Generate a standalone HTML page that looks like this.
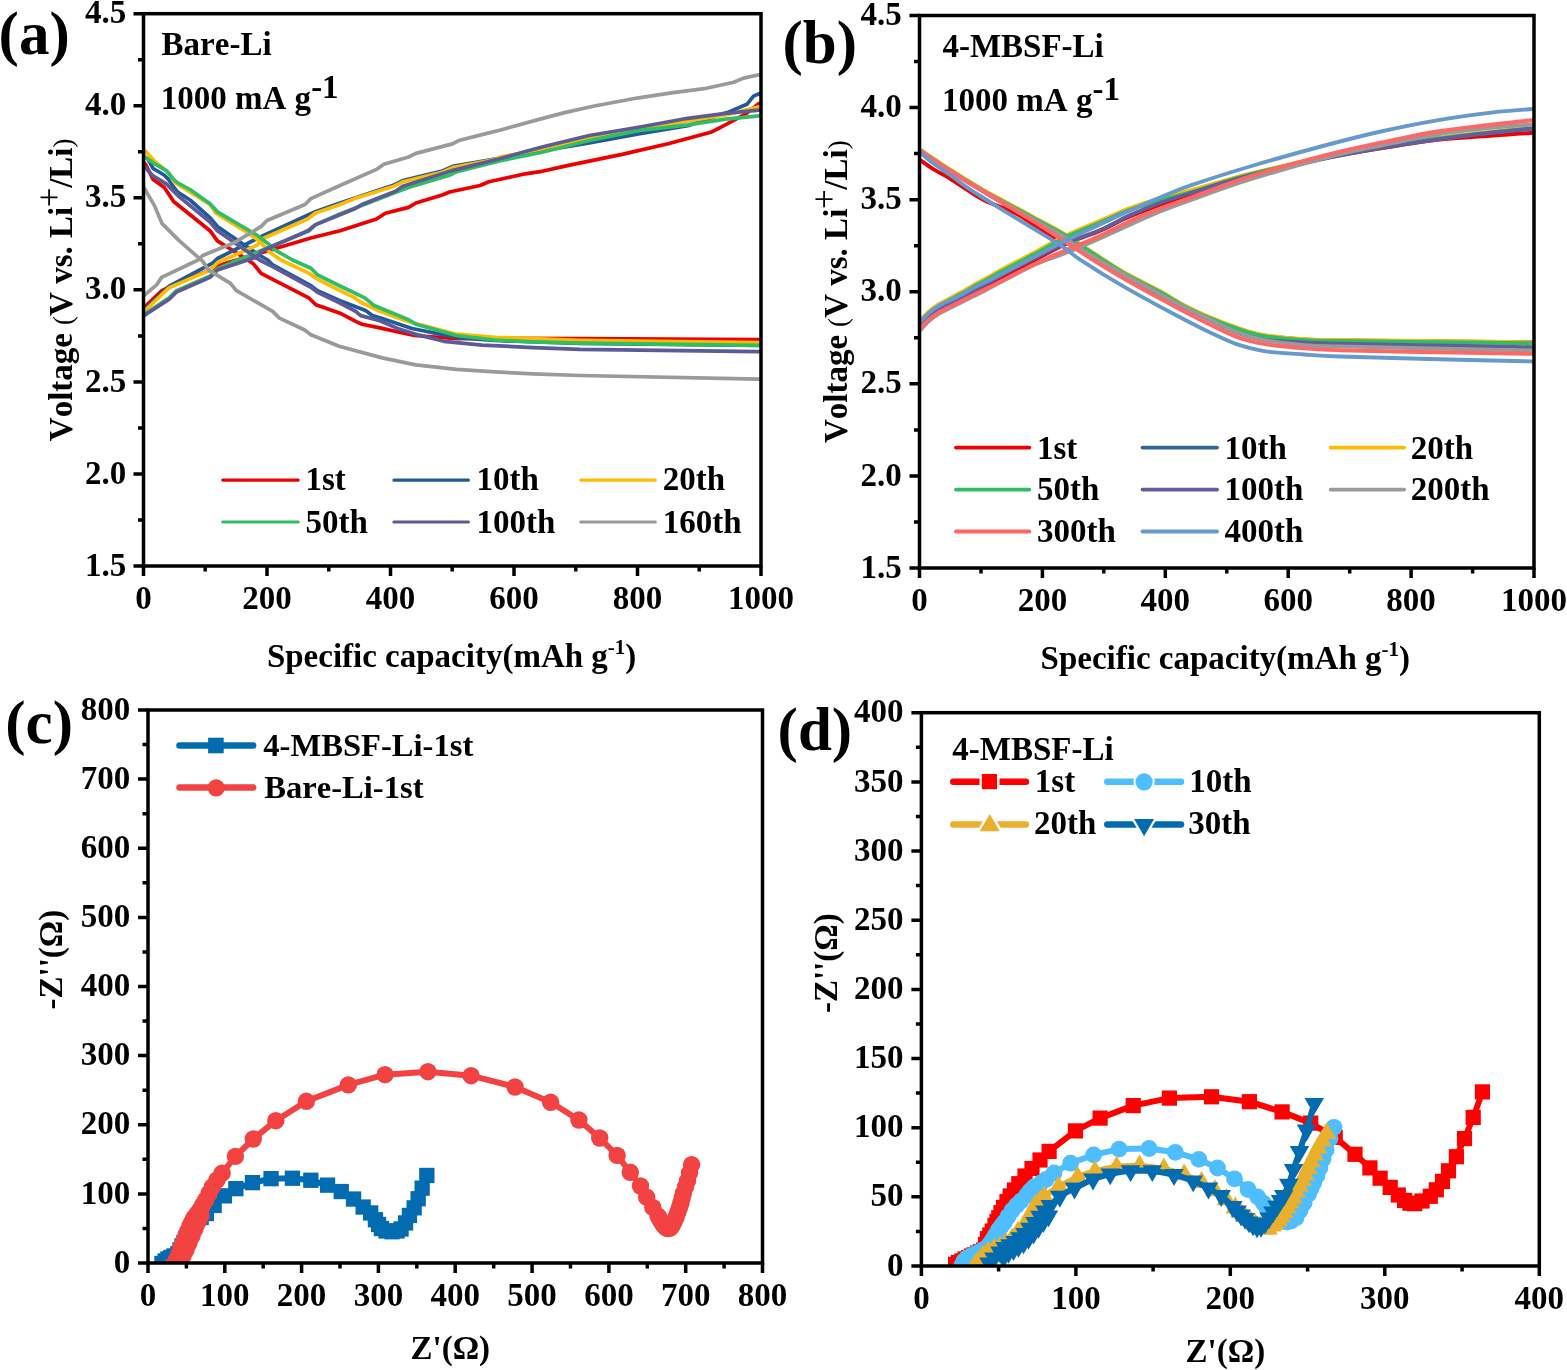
<!DOCTYPE html><html><head><meta charset="utf-8"><title>Figure</title><style>html,body{margin:0;padding:0;background:#fff;}svg{display:block;}text{font-family:"Liberation Serif","Times New Roman",serif;font-weight:bold;fill:#000;font-kerning:none;}</style></head><body>
<svg width="1567" height="1370" viewBox="0 0 1567 1370" font-size="33">
<rect width="1567" height="1370" fill="#fff"/>
<defs><clipPath id="ca"><rect x="143.5" y="13.7" width="617.5" height="552.3"/></clipPath><clipPath id="cb"><rect x="919.5" y="15.5" width="614.5" height="552.5"/></clipPath><clipPath id="cc"><rect x="148" y="710" width="614.5" height="553"/></clipPath><clipPath id="cd"><rect x="921.4" y="712.7" width="617.9" height="553.3"/></clipPath></defs>
<g clip-path="url(#ca)">
<polyline points="143.5,162 145.7,164.5 153.1,179.4 164.1,187.3 170.6,196.9 173.6,201.5 210,230.7 217.4,240.9 247.8,260 253.9,264.3 261.1,273.3 309.2,298.2 315.9,304.8 340,313.2 355.7,321.4 361.9,324.2 380,327.9 399.1,332.3 414.5,335.5 456.6,338.7 494.9,338.2 580,338.6 759,339.7" fill="none" stroke="#EE0000" stroke-width="3.7" stroke-linejoin="round" stroke-linecap="round"/>
<polyline points="143.5,308 161.9,290.6 176.5,283.3 210,270.1 217.4,265.8 271.4,249.7 310.8,238 340,230.7 376.5,219 385.3,213.2 408.6,207.4 415.9,203 442.2,195 449.5,192 480.1,185.5 488.9,181.8 525.4,173.8 540,171.7 569.6,165.1 622.1,154.4 668.1,143.8 710.8,132.3 720.6,127.3 745.3,114.2 759,103.5" fill="none" stroke="#EE0000" stroke-width="3.7" stroke-linejoin="round" stroke-linecap="round"/>
<polyline points="143.5,156.5 148,159 151,164.5 153.1,168.5 164.1,175 168.5,179.4 172.8,186 177.2,191.7 190,200 210,217.6 217.4,226.4 259.7,255.5 267.8,260 272.7,265 310.9,285.7 317.5,290.7 340,300.8 365.6,310.6 372.3,315.6 380,317.7 411.9,328.5 443.8,334.9 463,338.1 494.9,340.5 580,343.5 759,345.5" fill="none" stroke="#22599A" stroke-width="3.7" stroke-linejoin="round" stroke-linecap="round"/>
<polyline points="143.5,310.5 169.2,286.2 213,262.8 217.4,258.5 264.1,235.1 315.2,211.8 340,203 394,185 402.8,180.6 442.2,171 453.9,166 493.3,159.4 540,151.1 589.3,142.9 638.5,133.9 687.8,125.7 727.2,112.6 746.9,104.3 753.5,96.1 759,93.7" fill="none" stroke="#22599A" stroke-width="3.7" stroke-linejoin="round" stroke-linecap="round"/>
<polyline points="143.5,149.5 145.7,151.4 155.3,161.9 168.5,172.4 175,182.6 210,204.5 216,213.2 242.2,229.3 259.7,241 268.5,251 274.3,255.5 281,260 309.2,273.3 315.9,278.3 340,290.6 354,297.3 360.7,302.3 380,311.3 405.5,320.8 456.6,334.2 494.9,337.4 533.2,338.7 580,340.3 759,342.5" fill="none" stroke="#FFBB00" stroke-width="3.7" stroke-linejoin="round" stroke-linecap="round"/>
<polyline points="143.5,312 169.2,287.7 210,270.1 217.4,262.8 256.8,245.3 264.1,238 307.9,219 315.2,213.2 340,204.5 354.6,198.6 394,186.2 402.8,181.8 442.2,172.3 453.9,167.2 493.3,159.9 500.6,157 540,149.2 589.3,138.5 638.5,129.5 687.8,121 725.6,115 759,106.8" fill="none" stroke="#FFBB00" stroke-width="3.7" stroke-linejoin="round" stroke-linecap="round"/>
<polyline points="143.5,155.5 145.7,157.5 153.1,162.8 166.3,170.6 172.8,178.5 177.2,182.5 190,189.5 210,203.7 217.4,211.8 256.8,235.1 268.5,243.9 274.3,249.7 292.6,260 310.9,268.3 317.5,274.9 340,286 364.8,297.9 373.6,305.2 408.6,319.8 415.9,324.2 456.6,335.5 494.9,340 533.2,341.9 580,343.2 759,345.4" fill="none" stroke="#2EBE66" stroke-width="3.7" stroke-linejoin="round" stroke-linecap="round"/>
<polyline points="143.5,315 169.2,297.9 176.5,290.6 210,276 217.4,268.7 259.7,251.2 309.3,230.7 315.2,224.9 340,213.9 398.4,191.3 410,187 449.5,175.3 456.8,171.6 500.6,160.7 540,152.8 589.3,140.5 638.5,130.6 687.8,124.9 725.6,119.1 759,115.8" fill="none" stroke="#2EBE66" stroke-width="3.7" stroke-linejoin="round" stroke-linecap="round"/>
<polyline points="143.5,166.5 145.7,168 153.1,175.9 166.3,183.8 172.8,190.4 179.4,196.9 210,222 217.4,230.7 259.5,260 272.7,266.6 310.9,287.4 317.5,292.4 340,303 355.7,311.4 360.7,315.6 380,320.8 399.1,329.1 418.3,334.9 443.8,341.3 482.1,345.1 533.2,347.6 580,349.4 759,351.6" fill="none" stroke="#5C5B98" stroke-width="3.7" stroke-linejoin="round" stroke-linecap="round"/>
<polyline points="143.5,316 169.2,299.3 176.5,292 210,277.4 217.4,270.1 256.8,257 261.2,251.2 307.9,230.7 315.2,224.9 340,214.7 354.6,208.8 361.9,204.5 395.5,191.3 402.8,186.2 442.2,173.8 453.9,170.1 497.7,159.2 540,147.5 589.3,135.5 638.5,127.3 687.8,118.3 725.6,113.4 759,110.1" fill="none" stroke="#5C5B98" stroke-width="3.7" stroke-linejoin="round" stroke-linecap="round"/>
<polyline points="143.5,187 154.6,205.9 161.9,223.4 179.4,240.9 202.8,261.4 208.6,270.1 230.5,283.3 236.4,290.6 272.7,311.4 279.4,318.1 304.3,329.7 310.9,334.7 339.1,346.3 382.2,357.9 415.7,364.9 456.6,369.3 494.9,371.9 533.2,373.8 580,375.5 759,379.1" fill="none" stroke="#9A9A9A" stroke-width="3.7" stroke-linejoin="round" stroke-linecap="round"/>
<polyline points="143.5,296 156.6,284.9 161.6,277.4 198.1,260 202.8,255.5 234.9,242.4 261.2,226.4 267,220.5 305,204.5 310.8,198.6 340,185.5 376.5,169.4 383.8,164.3 408.6,157 415.9,153.4 452.4,143.9 459.7,140.2 486,133.6 500.6,130 540,119.1 564.6,112.6 594.2,106 638.5,97.8 671.4,92.8 704.2,88.7 733.8,82.2 743.6,78.1 759,74.8" fill="none" stroke="#9A9A9A" stroke-width="3.7" stroke-linejoin="round" stroke-linecap="round"/>
</g>
<rect x="143.5" y="13.7" width="617.5" height="552.3" fill="none" stroke="#000" stroke-width="3.5"/>
<path d="M143.5 566V576M267 566V576M390.5 566V576M514 566V576M637.5 566V576M761 566V576M205.2 566V571.5M328.8 566V571.5M452.2 566V571.5M575.8 566V571.5M699.2 566V571.5M143.5 566H133.5M143.5 473.9H133.5M143.5 381.9H133.5M143.5 289.8H133.5M143.5 197.8H133.5M143.5 105.7H133.5M143.5 13.7H133.5M143.5 520H138M143.5 427.9H138M143.5 335.9H138M143.5 243.8H138M143.5 151.8H138M143.5 59.7H138" stroke="#000" stroke-width="3.5" fill="none"/>
<text x="143.5" y="609" text-anchor="middle">0</text>
<text x="267" y="609" text-anchor="middle">200</text>
<text x="390.5" y="609" text-anchor="middle">400</text>
<text x="514" y="609" text-anchor="middle">600</text>
<text x="637.5" y="609" text-anchor="middle">800</text>
<text x="761" y="609" text-anchor="middle">1000</text>
<text x="126.2" y="575.6" text-anchor="end">1.5</text>
<text x="126.2" y="483.6" text-anchor="end">2.0</text>
<text x="126.2" y="391.5" text-anchor="end">2.5</text>
<text x="126.2" y="299.4" text-anchor="end">3.0</text>
<text x="126.2" y="207.4" text-anchor="end">3.5</text>
<text x="126.2" y="115.3" text-anchor="end">4.0</text>
<text x="126.2" y="23.3" text-anchor="end">4.5</text>
<line x1="222.7" y1="480.1" x2="298.2" y2="480.1" stroke="#EE0000" stroke-width="3.2" stroke-linecap="round"/>
<text x="305.4" y="490.2">1st</text>
<line x1="222.7" y1="522" x2="298.2" y2="522" stroke="#2EBE66" stroke-width="3.2" stroke-linecap="round"/>
<text x="305.4" y="532.7">50th</text>
<line x1="393.9" y1="480.1" x2="468.4" y2="480.1" stroke="#22599A" stroke-width="3.2" stroke-linecap="round"/>
<text x="476.4" y="490.2">10th</text>
<line x1="393.9" y1="522" x2="468.4" y2="522" stroke="#5C5B98" stroke-width="3.2" stroke-linecap="round"/>
<text x="476.4" y="532.7">100th</text>
<line x1="580.8" y1="480.1" x2="655.3" y2="480.1" stroke="#FFBB00" stroke-width="3.2" stroke-linecap="round"/>
<text x="662.7" y="490.2">20th</text>
<line x1="580.8" y1="522" x2="655.3" y2="522" stroke="#9A9A9A" stroke-width="3.2" stroke-linecap="round"/>
<text x="662.7" y="532.7">160th</text>
<text x="161.6" y="55.1">Bare-Li</text>
<text x="160.8" y="109.3">1000 mA g<tspan dy="-11.3">-1</tspan></text>
<text x="-1.4" y="54" font-size="61">(a)</text>
<text x="266.9" y="667.3">Specific capacity(mAh g<tspan font-size="21" dy="-13">-1</tspan><tspan dy="13">)</tspan></text>
<text transform="translate(71.5 441.2) rotate(-90)" x="0" y="0">Voltage <tspan x="116.2" font-size="26.6" font-weight="normal">(</tspan><tspan x="125.3">V vs. Li</tspan><tspan x="234" font-size="35" font-weight="normal" dy="-10.7">+</tspan><tspan x="253.4" dy="10.7">/Li</tspan><tspan font-size="26.6" font-weight="normal">)</tspan></text>
<g clip-path="url(#cb)">
<path d="M919.5 159.5 C921.7 161 927.4 165.4 932.5 168.6 C937.6 171.8 944.1 175 950 178.6 C955.9 182.2 961.8 186.5 967.6 190.2 C973.5 193.9 976.8 196.7 985.1 200.7 C993.4 204.7 1006.2 208.2 1017.5 214.3 C1028.8 220.5 1044.8 233.1 1052.6 237.6 C1060.4 242.1 1059.6 239.4 1064.2 241.5 C1068.8 243.6 1070.1 244.5 1080 250 C1089.9 255.5 1110.4 267.4 1123.8 274.5 C1137.2 281.6 1150.3 287.3 1160.3 292.5 C1170.3 297.7 1175.3 301.6 1183.6 305.8 C1191.9 310.1 1201.1 314.2 1210 318 C1218.9 321.8 1228.2 325.4 1237.2 328.3 C1246.2 331.2 1252.8 333.8 1264 335.7 C1275.2 337.6 1291.5 338.7 1304.2 339.5 C1316.9 340.3 1320.7 340.1 1340 340.4 C1359.3 340.7 1388 340.9 1420 341.2 C1452 341.5 1513.3 342.1 1532 342.3" fill="none" stroke="#EE0000" stroke-width="3.9" stroke-linejoin="round" stroke-linecap="round"/>
<path d="M919.5 327 C921.2 325.5 926.5 320.6 929.6 318 C932.8 315.4 935 313.6 938.4 311.5 C941.8 309.4 946.1 307.5 950 305.5 C953.9 303.5 957.8 301.6 961.7 299.5 C965.6 297.4 969.5 295.1 973.4 293 C977.3 290.9 980.7 289.4 985.1 287 C989.5 284.6 991.7 283 1000 278.5 C1008.3 274 1024 265.8 1035 260 C1046 254.2 1054.8 248.9 1065.8 244 C1076.8 239.1 1090.2 235.1 1100.9 230.5 C1111.6 225.9 1114.9 222.6 1130 216.5 C1145.1 210.4 1171.3 200.7 1191.3 194 C1211.3 187.3 1237.1 180.1 1250 176.5 C1262.9 172.9 1256 175.2 1268.5 172.2 C1281 169.1 1306 162.2 1324.7 158.2 C1343.4 154.2 1362.1 151.4 1380.8 148.4 C1399.5 145.4 1418.3 142.1 1437 139.9 C1455.7 137.8 1477.3 136.7 1493.1 135.5 C1508.9 134.3 1525.5 133.3 1532 132.9" fill="none" stroke="#EE0000" stroke-width="3.9" stroke-linejoin="round" stroke-linecap="round"/>
<path d="M919.5 150 C921.7 151.4 927.4 155.2 932.5 158.5 C937.6 161.8 944.1 166.2 950 170 C955.9 173.8 961.8 177.4 967.6 181 C973.5 184.6 979.7 188.4 985.1 191.5 C990.5 194.6 991.7 195 1000 199.5 C1008.3 204 1024.3 212.7 1035 218.5 C1045.7 224.3 1055.5 229.3 1064.2 234.5 C1072.9 239.7 1077.4 243.1 1087.3 249.5 C1097.2 255.9 1111.6 265.8 1123.8 272.8 C1136 279.9 1150.3 286.3 1160.3 291.8 C1170.3 297.3 1175.3 301.2 1183.6 305.6 C1191.9 310 1201.1 314.2 1210 318 C1218.9 321.8 1228.2 325.4 1237.2 328.3 C1246.2 331.2 1252.8 333.8 1264 335.7 C1275.2 337.6 1291.5 338.9 1304.2 339.7 C1316.9 340.5 1320.7 340.3 1340 340.6 C1359.3 340.9 1388 341.1 1420 341.5 C1452 341.9 1513.3 342.6 1532 342.8" fill="none" stroke="#33659C" stroke-width="3.9" stroke-linejoin="round" stroke-linecap="round"/>
<path d="M919.5 322 C921.2 320.3 926.5 314.8 929.6 312 C932.8 309.2 935 307.5 938.4 305.4 C941.8 303.3 946.1 301.3 950 299.2 C953.9 297.1 957.8 295.2 961.7 293 C965.6 290.8 969.5 288.3 973.4 286.1 C977.3 283.9 980.7 282.4 985.1 280 C989.5 277.6 991.7 276 1000 271.5 C1008.3 267 1024 259 1035 253.2 C1046 247.4 1054.8 241.8 1065.8 236.5 C1076.8 231.2 1090.2 226 1100.9 221.4 C1111.6 216.8 1120.2 212.7 1130 209 C1139.8 205.3 1149.8 202.5 1160 199.5 C1170.2 196.5 1176.3 195.3 1191.3 191.2 C1206.3 187.1 1227.8 180.2 1250 174.7 C1272.2 169.2 1302.9 162.5 1324.7 158 C1346.5 153.5 1362.1 150.7 1380.8 147.5 C1399.5 144.3 1418.3 141.5 1437 139 C1455.7 136.5 1477.3 134.2 1493.1 132.5 C1508.9 130.8 1525.5 129.6 1532 129" fill="none" stroke="#33659C" stroke-width="3.9" stroke-linejoin="round" stroke-linecap="round"/>
<path d="M919.5 149.4 C921.7 150.8 927.4 154.6 932.5 157.9 C937.6 161.2 944.1 165.7 950 169.4 C955.9 173.2 961.8 176.8 967.6 180.4 C973.5 184 979.7 187.8 985.1 190.9 C990.5 194 991.7 194.4 1000 198.9 C1008.3 203.4 1024.3 212.1 1035 217.9 C1045.7 223.7 1055.5 228.7 1064.2 233.9 C1072.9 239.1 1077.4 242.5 1087.3 248.9 C1097.2 255.3 1111.6 265.1 1123.8 272.2 C1136 279.2 1150.3 285.7 1160.3 291.2 C1170.3 296.7 1175.3 300.6 1183.6 305 C1191.9 309.4 1201.1 313.6 1210 317.4 C1218.9 321.2 1228.2 324.8 1237.2 327.7 C1246.2 330.6 1252.8 333.2 1264 335.1 C1275.2 337 1291.5 338.3 1304.2 339.1 C1316.9 339.9 1320.7 339.7 1340 340 C1359.3 340.3 1388 340.5 1420 340.9 C1452 341.3 1513.3 342 1532 342.2" fill="none" stroke="#FFBB00" stroke-width="3.9" stroke-linejoin="round" stroke-linecap="round"/>
<path d="M919.5 321 C921.2 319.3 926.5 313.8 929.6 311 C932.8 308.2 935 306.5 938.4 304.4 C941.8 302.3 946.1 300.3 950 298.2 C953.9 296.1 957.8 294.2 961.7 292 C965.6 289.8 969.5 287.3 973.4 285.1 C977.3 282.9 980.7 281.4 985.1 279 C989.5 276.6 991.7 275 1000 270.5 C1008.3 266 1024 258 1035 252.2 C1046 246.4 1054.8 240.8 1065.8 235.5 C1076.8 230.2 1090.2 225 1100.9 220.4 C1111.6 215.8 1120.2 211.7 1130 208 C1139.8 204.3 1149.8 201.5 1160 198.5 C1170.2 195.5 1176.3 194.3 1191.3 190.2 C1206.3 186.1 1227.8 179.2 1250 173.7 C1272.2 168.2 1302.9 161.5 1324.7 157 C1346.5 152.5 1362.1 149.7 1380.8 146.5 C1399.5 143.3 1418.3 140.5 1437 138 C1455.7 135.5 1477.3 133.2 1493.1 131.5 C1508.9 129.8 1525.5 128.6 1532 128" fill="none" stroke="#FFBB00" stroke-width="3.9" stroke-linejoin="round" stroke-linecap="round"/>
<path d="M919.5 150.4 C921.7 151.8 927.4 155.6 932.5 158.9 C937.6 162.2 944.1 166.7 950 170.4 C955.9 174.2 961.8 177.8 967.6 181.4 C973.5 185 979.7 188.8 985.1 191.9 C990.5 195 991.7 195.4 1000 199.9 C1008.3 204.4 1024.3 213.1 1035 218.9 C1045.7 224.7 1055.5 229.7 1064.2 234.9 C1072.9 240.1 1077.4 243.5 1087.3 249.9 C1097.2 256.3 1111.6 266.1 1123.8 273.2 C1136 280.2 1150.3 286.7 1160.3 292.2 C1170.3 297.7 1175.3 301.6 1183.6 306 C1191.9 310.4 1201.1 314.6 1210 318.4 C1218.9 322.2 1228.2 325.8 1237.2 328.7 C1246.2 331.6 1252.8 334.2 1264 336.1 C1275.2 338 1291.5 339.3 1304.2 340.1 C1316.9 340.9 1320.7 340.7 1340 341 C1359.3 341.3 1388 341.5 1420 341.9 C1452 342.3 1513.3 343 1532 343.2" fill="none" stroke="#2EBE66" stroke-width="3.9" stroke-linejoin="round" stroke-linecap="round"/>
<path d="M919.5 322.8 C921.2 321.1 926.5 315.6 929.6 312.8 C932.8 310 935 308.3 938.4 306.2 C941.8 304.1 946.1 302.1 950 300 C953.9 297.9 957.8 296 961.7 293.8 C965.6 291.6 969.5 289.1 973.4 286.9 C977.3 284.7 980.7 283.2 985.1 280.8 C989.5 278.4 991.7 276.8 1000 272.3 C1008.3 267.8 1024 259.8 1035 254 C1046 248.2 1054.8 242.6 1065.8 237.3 C1076.8 232 1090.2 226.8 1100.9 222.2 C1111.6 217.6 1120.2 213.5 1130 209.8 C1139.8 206.2 1149.8 203.3 1160 200.3 C1170.2 197.3 1176.3 196.3 1191.3 192 C1206.3 187.7 1227.8 180 1250 174.3 C1272.2 168.6 1302.9 162.1 1324.7 157.6 C1346.5 153.1 1362.1 150.3 1380.8 147.1 C1399.5 143.9 1418.3 141.1 1437 138.6 C1455.7 136.1 1477.3 133.8 1493.1 132.1 C1508.9 130.4 1525.5 129.2 1532 128.6" fill="none" stroke="#2EBE66" stroke-width="3.9" stroke-linejoin="round" stroke-linecap="round"/>
<path d="M919.5 151 C921.7 152.4 927.4 156.2 932.5 159.5 C937.6 162.8 944.1 167.2 950 171 C955.9 174.8 961.8 178.4 967.6 182 C973.5 185.6 979.7 189.3 985.1 192.5 C990.5 195.7 991.7 196.3 1000 201.1 C1008.3 205.8 1024.3 214.9 1035 221 C1045.7 227.1 1056.7 232.8 1064.2 237.5 C1071.7 242.2 1070.1 242.9 1080 249.1 C1089.9 255.3 1107.1 265.3 1123.8 274.7 C1140.5 284.1 1165.6 297.8 1180 305.4 C1194.4 312.9 1200.5 315.4 1210 320 C1219.5 324.6 1228.2 329.6 1237.2 332.9 C1246.2 336.2 1252.8 338.1 1264 339.7 C1275.2 341.2 1291.5 341.7 1304.2 342.4 C1316.9 343.1 1320.7 343.1 1340 343.6 C1359.3 344 1388 344.5 1420 345.1 C1452 345.7 1513.3 346.8 1532 347.2" fill="none" stroke="#625E9E" stroke-width="3.9" stroke-linejoin="round" stroke-linecap="round"/>
<path d="M919.5 325 C921.2 323.4 926.5 318.2 929.6 315.5 C932.8 312.8 935 311.1 938.4 309 C941.8 306.9 946.1 305 950 303 C953.9 301 957.8 299.1 961.7 297 C965.6 294.9 969.5 292.6 973.4 290.5 C977.3 288.4 980.7 286.9 985.1 284.5 C989.5 282.1 991.7 280.4 1000 276 C1008.3 271.6 1024 263.5 1035 258 C1046 252.5 1054.8 247.7 1065.8 243 C1076.8 238.3 1090.2 234.3 1100.9 229.7 C1111.6 225 1120.2 219.5 1130 215.1 C1139.8 210.7 1149.8 206.7 1160 203 C1170.2 199.3 1176.3 197.5 1191.3 192.9 C1206.3 188.3 1227.8 181.2 1250 175.5 C1272.2 169.8 1302.9 163.1 1324.7 158.5 C1346.5 153.9 1362.1 151.2 1380.8 148 C1399.5 144.8 1418.3 142.1 1437 139.5 C1455.7 136.9 1477.3 134.3 1493.1 132.5 C1508.9 130.7 1525.5 129.2 1532 128.5" fill="none" stroke="#625E9E" stroke-width="3.9" stroke-linejoin="round" stroke-linecap="round"/>
<path d="M919.5 150.5 C921.7 151.9 927.4 155.7 932.5 159 C937.6 162.3 944.1 166.8 950 170.5 C955.9 174.2 961.8 177.9 967.6 181.5 C973.5 185.1 979.7 188.8 985.1 192 C990.5 195.2 991.7 195.8 1000 200.6 C1008.3 205.3 1024.3 214.4 1035 220.5 C1045.7 226.6 1056.7 232.3 1064.2 237 C1071.7 241.7 1070.1 242.4 1080 248.6 C1089.9 254.8 1107.1 264.8 1123.8 274.2 C1140.5 283.6 1165.6 297.3 1180 304.9 C1194.4 312.4 1200.5 314.9 1210 319.5 C1219.5 324.1 1228.2 329 1237.2 332.4 C1246.2 335.8 1252.8 337.9 1264 340 C1275.2 342.1 1291.5 344 1304.2 345.1 C1316.9 346.2 1320.7 345.9 1340 346.4 C1359.3 346.9 1388 347.6 1420 348.3 C1452 349 1513.3 350.1 1532 350.5" fill="none" stroke="#9A9A9A" stroke-width="3.9" stroke-linejoin="round" stroke-linecap="round"/>
<path d="M919.5 331 C921.2 329.2 926.5 323.3 929.6 320.5 C932.8 317.7 935 316.1 938.4 314 C941.8 311.9 946.1 310 950 308 C953.9 306 957.8 304.1 961.7 302.2 C965.6 300.2 969.5 298.2 973.4 296.3 C977.3 294.4 980.7 292.8 985.1 290.5 C989.5 288.2 991.7 286.8 1000 282.5 C1008.3 278.2 1024 269.4 1035 264.5 C1046 259.6 1054.8 257.4 1065.8 253 C1076.8 248.6 1090.2 242.6 1100.9 237.9 C1111.6 233.2 1120.2 229.1 1130 224.7 C1139.8 220.3 1149.8 215.7 1160 211.5 C1170.2 207.3 1176.3 205.1 1191.3 199.8 C1206.3 194.5 1227.8 186.5 1250 179.5 C1272.2 172.5 1302.9 163.7 1324.7 158 C1346.5 152.3 1362.1 149.4 1380.8 145.5 C1399.5 141.6 1418.3 137.5 1437 134.5 C1455.7 131.5 1477.3 129.2 1493.1 127.5 C1508.9 125.8 1525.5 125 1532 124.5" fill="none" stroke="#9A9A9A" stroke-width="3.9" stroke-linejoin="round" stroke-linecap="round"/>
<path d="M919.5 149.5 C921.7 151.1 927.4 155.7 932.5 159.3 C937.6 162.9 944.1 167.2 950 171 C955.9 174.8 961.8 178.5 967.6 182.1 C973.5 185.7 979.7 189.4 985.1 192.6 C990.5 195.8 991.7 196.5 1000 201.5 C1008.3 206.5 1024.3 215.8 1035 222.4 C1045.7 229 1056.7 236.2 1064.2 241.1 C1071.7 246 1070.1 245.4 1080 251.7 C1089.9 257.9 1107.1 269 1123.8 278.6 C1140.5 288.2 1165.6 301.6 1180 309.2 C1194.4 316.8 1200.5 319.9 1210 324.5 C1219.5 329.1 1228.2 333.9 1237.2 337.1 C1246.2 340.3 1252.8 341.9 1264 343.8 C1275.2 345.7 1291.5 347.3 1304.2 348.4 C1316.9 349.5 1320.7 349.6 1340 350.2 C1359.3 350.8 1388 351.4 1420 352 C1452 352.6 1513.3 353.5 1532 353.8" fill="none" stroke="#FF6666" stroke-width="3.9" stroke-linejoin="round" stroke-linecap="round"/>
<path d="M919.5 329.5 C919.8 329.1 919.7 328.9 921.4 327.2 C923.1 325.4 926.8 321.4 929.6 319 C932.4 316.6 935 314.7 938.4 312.6 C941.8 310.6 946.1 308.6 950 306.7 C953.9 304.8 957.8 302.8 961.7 300.9 C965.6 298.9 969.5 296.9 973.4 295 C977.3 293.1 981.2 291.1 985.1 289.2 C989 287.3 988.5 287.6 996.8 283.4 C1005.1 279.2 1023.8 269.3 1035 263.9 C1046.2 258.5 1053.2 255.8 1064.2 251.1 C1075.2 246.4 1089.9 240.5 1100.9 235.5 C1111.9 230.5 1120.2 225.7 1130 221.2 C1139.8 216.7 1149.8 212.4 1160 208.5 C1170.2 204.6 1176.3 202.8 1191.3 197.5 C1206.3 192.2 1227.8 183.4 1250 176.4 C1272.2 169.4 1302.9 161 1324.7 155.4 C1346.5 149.8 1362.1 146.7 1380.8 142.7 C1399.5 138.7 1418.3 134.5 1437 131.5 C1455.7 128.5 1477.3 126.4 1493.1 124.5 C1508.9 122.6 1525.5 121 1532 120.3" fill="none" stroke="#FF6666" stroke-width="3.9" stroke-linejoin="round" stroke-linecap="round"/>
<path d="M919.5 152 C921.7 153.8 927.4 159 932.5 162.8 C937.6 166.6 944.1 170.8 950 175 C955.9 179.2 961.8 183.9 967.6 187.9 C973.5 191.9 979.7 195.6 985.1 199 C990.5 202.4 991.7 203.3 1000 208.4 C1008.3 213.5 1024.3 223 1035 229.5 C1045.7 236 1056.7 242.6 1064.2 247.6 C1071.7 252.6 1070.1 253.1 1080 259.6 C1089.9 266.1 1107.1 277 1123.8 286.6 C1140.5 296.2 1165.6 309.7 1180 317.3 C1194.4 324.9 1200.5 328 1210 332.5 C1219.5 337 1228.2 341.3 1237.2 344.4 C1246.2 347.5 1252.8 349.4 1264 351.1 C1275.2 352.8 1291.5 353.6 1304.2 354.5 C1316.9 355.4 1320.7 355.8 1340 356.5 C1359.3 357.2 1388 358 1420 358.8 C1452 359.6 1513.3 361 1532 361.4" fill="none" stroke="#6699CC" stroke-width="3.9" stroke-linejoin="round" stroke-linecap="round"/>
<path d="M919.5 323 C919.8 322.6 919.7 322.4 921.4 320.7 C923.1 319 926.8 315 929.6 312.6 C932.4 310.2 935 308.2 938.4 306.1 C941.8 304.1 946.1 302.2 950 300.3 C953.9 298.4 957.8 296.6 961.7 294.5 C965.6 292.4 969.5 290.1 973.4 288 C977.3 285.9 981.2 284.1 985.1 282.2 C989 280.3 988.5 280.7 996.8 276.4 C1005.1 272.1 1023.5 262.5 1035 256.5 C1046.5 250.5 1054.8 245.9 1065.8 240.5 C1076.8 235.1 1090.2 229 1100.9 224 C1111.6 219 1120.2 214.9 1130 210.5 C1139.8 206.1 1149.8 201.7 1160 197.5 C1170.2 193.3 1176.3 190.4 1191.3 185.2 C1206.3 180 1227.8 173.1 1250 166.5 C1272.2 159.9 1302.9 151.3 1324.7 145.5 C1346.5 139.7 1362.1 135.7 1380.8 131.5 C1399.5 127.3 1418.3 123.5 1437 120.3 C1455.7 117.1 1477.3 114.3 1493.1 112.4 C1508.9 110.5 1525.5 109.6 1532 109" fill="none" stroke="#6699CC" stroke-width="3.9" stroke-linejoin="round" stroke-linecap="round"/>
</g>
<rect x="919.5" y="15.5" width="614.5" height="552.5" fill="none" stroke="#000" stroke-width="3.5"/>
<path d="M919.5 568V578M1042.4 568V578M1165.3 568V578M1288.2 568V578M1411.1 568V578M1534 568V578M981 568V573.5M1103.8 568V573.5M1226.8 568V573.5M1349.7 568V573.5M1472.6 568V573.5M919.5 568H909.5M919.5 475.9H909.5M919.5 383.8H909.5M919.5 291.8H909.5M919.5 199.7H909.5M919.5 107.6H909.5M919.5 15.5H909.5M919.5 522H914M919.5 429.9H914M919.5 337.8H914M919.5 245.7H914M919.5 153.6H914M919.5 61.5H914" stroke="#000" stroke-width="3.5" fill="none"/>
<text x="919.5" y="611" text-anchor="middle">0</text>
<text x="1042.4" y="611" text-anchor="middle">200</text>
<text x="1165.3" y="611" text-anchor="middle">400</text>
<text x="1288.2" y="611" text-anchor="middle">600</text>
<text x="1411.1" y="611" text-anchor="middle">800</text>
<text x="1534" y="611" text-anchor="middle">1000</text>
<text x="901.7" y="577.6" text-anchor="end">1.5</text>
<text x="901.7" y="485.5" text-anchor="end">2.0</text>
<text x="901.7" y="393.4" text-anchor="end">2.5</text>
<text x="901.7" y="301.4" text-anchor="end">3.0</text>
<text x="901.7" y="209.3" text-anchor="end">3.5</text>
<text x="901.7" y="117.2" text-anchor="end">4.0</text>
<text x="901.7" y="25.1" text-anchor="end">4.5</text>
<line x1="956" y1="447.6" x2="1029.3" y2="447.6" stroke="#EE0000" stroke-width="3.9" stroke-linecap="round"/>
<text x="1037" y="458.5">1st</text>
<line x1="956" y1="489.6" x2="1029.3" y2="489.6" stroke="#2EBE66" stroke-width="3.9" stroke-linecap="round"/>
<text x="1037" y="500">50th</text>
<line x1="956" y1="531.5" x2="1029.3" y2="531.5" stroke="#FF6666" stroke-width="3.9" stroke-linecap="round"/>
<text x="1037" y="541.8">300th</text>
<line x1="1142.6" y1="447.6" x2="1217" y2="447.6" stroke="#33659C" stroke-width="3.9" stroke-linecap="round"/>
<text x="1224.6" y="458.5">10th</text>
<line x1="1142.6" y1="489.6" x2="1217" y2="489.6" stroke="#625E9E" stroke-width="3.9" stroke-linecap="round"/>
<text x="1224.6" y="500">100th</text>
<line x1="1142.6" y1="531.5" x2="1217" y2="531.5" stroke="#6699CC" stroke-width="3.9" stroke-linecap="round"/>
<text x="1224.6" y="541.8">400th</text>
<line x1="1330.7" y1="447.6" x2="1404.1" y2="447.6" stroke="#FFBB00" stroke-width="3.9" stroke-linecap="round"/>
<text x="1410.8" y="458.5">20th</text>
<line x1="1330.7" y1="489.6" x2="1404.1" y2="489.6" stroke="#9A9A9A" stroke-width="3.9" stroke-linecap="round"/>
<text x="1410.8" y="500">200th</text>
<text x="942.4" y="56.8">4-MBSF-Li</text>
<text x="942.1" y="110.9">1000 mA g<tspan dy="-11.3">-1</tspan></text>
<text x="782.5" y="62.9" font-size="61">(b)</text>
<text x="1040.6" y="668.9">Specific capacity(mAh g<tspan font-size="21" dy="-13">-1</tspan><tspan dy="13">)</tspan></text>
<text transform="translate(847 443.1) rotate(-90)" x="0" y="0">Voltage <tspan x="116.2" font-size="26.6" font-weight="normal">(</tspan><tspan x="125.3">V vs. Li</tspan><tspan x="234" font-size="35" font-weight="normal" dy="-10.7">+</tspan><tspan x="253.4" dy="10.7">/Li</tspan><tspan font-size="26.6" font-weight="normal">)</tspan></text>
<g clip-path="url(#cc)">
<polyline points="162,1263.5 165.2,1261 168,1259 171,1257.5 174,1256 177.9,1253.8 180,1250 182,1246 184,1242.5 186,1238 188.4,1233.7 190,1230.5 191.9,1227.6 194,1224 196.5,1220.8 201.2,1217.5 206.3,1213.6 214.2,1205.5 224.3,1195.9 235.9,1188.7 252.5,1182.7 271,1178.7 292.4,1178.3 310.8,1180.3 327.5,1185.2 341.2,1191.6 353.5,1199.1 363.1,1207.1 370.6,1213 375.4,1219.8 378.5,1224.5 381.4,1228.6 386,1231 392,1231.8 397,1231 401,1229 405.5,1223 409.4,1215.5 414.1,1207.9 418.1,1198.8 422.1,1188.2 426.9,1175.5" fill="none" stroke="#036CB0" stroke-width="6" stroke-linejoin="round" stroke-linecap="round"/>
<rect x="154.3" y="1255.8" width="15.3" height="15.3" fill="#036CB0"/><rect x="157.5" y="1253.3" width="15.3" height="15.3" fill="#036CB0"/><rect x="160.3" y="1251.3" width="15.3" height="15.3" fill="#036CB0"/><rect x="163.3" y="1249.8" width="15.3" height="15.3" fill="#036CB0"/><rect x="166.3" y="1248.3" width="15.3" height="15.3" fill="#036CB0"/><rect x="170.2" y="1246.1" width="15.3" height="15.3" fill="#036CB0"/><rect x="172.3" y="1242.3" width="15.3" height="15.3" fill="#036CB0"/><rect x="174.3" y="1238.3" width="15.3" height="15.3" fill="#036CB0"/><rect x="176.3" y="1234.8" width="15.3" height="15.3" fill="#036CB0"/><rect x="178.3" y="1230.3" width="15.3" height="15.3" fill="#036CB0"/><rect x="180.8" y="1226" width="15.3" height="15.3" fill="#036CB0"/><rect x="182.3" y="1222.8" width="15.3" height="15.3" fill="#036CB0"/><rect x="184.2" y="1219.9" width="15.3" height="15.3" fill="#036CB0"/><rect x="186.3" y="1216.3" width="15.3" height="15.3" fill="#036CB0"/><rect x="188.8" y="1213.1" width="15.3" height="15.3" fill="#036CB0"/><rect x="193.5" y="1209.8" width="15.3" height="15.3" fill="#036CB0"/><rect x="198.7" y="1205.9" width="15.3" height="15.3" fill="#036CB0"/><rect x="206.5" y="1197.8" width="15.3" height="15.3" fill="#036CB0"/><rect x="216.7" y="1188.2" width="15.3" height="15.3" fill="#036CB0"/><rect x="228.2" y="1181" width="15.3" height="15.3" fill="#036CB0"/><rect x="244.8" y="1175" width="15.3" height="15.3" fill="#036CB0"/><rect x="263.4" y="1171" width="15.3" height="15.3" fill="#036CB0"/><rect x="284.8" y="1170.6" width="15.3" height="15.3" fill="#036CB0"/><rect x="303.2" y="1172.6" width="15.3" height="15.3" fill="#036CB0"/><rect x="319.9" y="1177.5" width="15.3" height="15.3" fill="#036CB0"/><rect x="333.6" y="1183.9" width="15.3" height="15.3" fill="#036CB0"/><rect x="345.9" y="1191.4" width="15.3" height="15.3" fill="#036CB0"/><rect x="355.5" y="1199.4" width="15.3" height="15.3" fill="#036CB0"/><rect x="363" y="1205.3" width="15.3" height="15.3" fill="#036CB0"/><rect x="367.8" y="1212.1" width="15.3" height="15.3" fill="#036CB0"/><rect x="370.9" y="1216.8" width="15.3" height="15.3" fill="#036CB0"/><rect x="373.8" y="1220.9" width="15.3" height="15.3" fill="#036CB0"/><rect x="378.4" y="1223.3" width="15.3" height="15.3" fill="#036CB0"/><rect x="384.4" y="1224.1" width="15.3" height="15.3" fill="#036CB0"/><rect x="389.4" y="1223.3" width="15.3" height="15.3" fill="#036CB0"/><rect x="393.4" y="1221.3" width="15.3" height="15.3" fill="#036CB0"/><rect x="397.9" y="1215.3" width="15.3" height="15.3" fill="#036CB0"/><rect x="401.8" y="1207.8" width="15.3" height="15.3" fill="#036CB0"/><rect x="406.5" y="1200.2" width="15.3" height="15.3" fill="#036CB0"/><rect x="410.5" y="1191.1" width="15.3" height="15.3" fill="#036CB0"/><rect x="414.5" y="1180.5" width="15.3" height="15.3" fill="#036CB0"/><rect x="419.2" y="1167.8" width="15.3" height="15.3" fill="#036CB0"/>
<polyline points="168,1272 172,1266 176.5,1260 179,1254 181,1248 183.5,1242 186,1236 188,1231 190,1226 192,1222 194,1218 197,1214 199.7,1210.4 202.5,1205.5 205.4,1200.4 209,1193.5 212.4,1186.8 217,1180 222.1,1173.2 235.4,1156.4 253.3,1139 275.8,1120.7 306.4,1101.3 348.3,1084.9 385,1074.7 427.9,1071.7 471.1,1075.7 515,1087 550.7,1102.3 578.9,1120 599.7,1138 617.1,1155.4 630.3,1172.3 640.5,1186 643.5,1191.5 646.7,1197.2 649.5,1202 652.8,1207.4 655.5,1212 658,1216 660,1219.5 662,1223 664,1225.8 666.1,1227.9 668,1228.5 670,1228 672,1226 674,1222 676,1217.5 678,1212 679.5,1207.5 681,1203 682.2,1198 683.4,1193.2 685.5,1187 687.5,1180.9 689.5,1173 691.6,1164.6" fill="none" stroke="#F24242" stroke-width="6" stroke-linejoin="round" stroke-linecap="round"/>
<circle cx="168" cy="1272" r="8.7" fill="#F24242"/><circle cx="172" cy="1266" r="8.7" fill="#F24242"/><circle cx="176.5" cy="1260" r="8.7" fill="#F24242"/><circle cx="179" cy="1254" r="8.7" fill="#F24242"/><circle cx="181" cy="1248" r="8.7" fill="#F24242"/><circle cx="183.5" cy="1242" r="8.7" fill="#F24242"/><circle cx="186" cy="1236" r="8.7" fill="#F24242"/><circle cx="188" cy="1231" r="8.7" fill="#F24242"/><circle cx="190" cy="1226" r="8.7" fill="#F24242"/><circle cx="192" cy="1222" r="8.7" fill="#F24242"/><circle cx="194" cy="1218" r="8.7" fill="#F24242"/><circle cx="197" cy="1214" r="8.7" fill="#F24242"/><circle cx="199.7" cy="1210.4" r="8.7" fill="#F24242"/><circle cx="202.5" cy="1205.5" r="8.7" fill="#F24242"/><circle cx="205.4" cy="1200.4" r="8.7" fill="#F24242"/><circle cx="209" cy="1193.5" r="8.7" fill="#F24242"/><circle cx="212.4" cy="1186.8" r="8.7" fill="#F24242"/><circle cx="217" cy="1180" r="8.7" fill="#F24242"/><circle cx="222.1" cy="1173.2" r="8.7" fill="#F24242"/><circle cx="235.4" cy="1156.4" r="8.7" fill="#F24242"/><circle cx="253.3" cy="1139" r="8.7" fill="#F24242"/><circle cx="275.8" cy="1120.7" r="8.7" fill="#F24242"/><circle cx="306.4" cy="1101.3" r="8.7" fill="#F24242"/><circle cx="348.3" cy="1084.9" r="8.7" fill="#F24242"/><circle cx="385" cy="1074.7" r="8.7" fill="#F24242"/><circle cx="427.9" cy="1071.7" r="8.7" fill="#F24242"/><circle cx="471.1" cy="1075.7" r="8.7" fill="#F24242"/><circle cx="515" cy="1087" r="8.7" fill="#F24242"/><circle cx="550.7" cy="1102.3" r="8.7" fill="#F24242"/><circle cx="578.9" cy="1120" r="8.7" fill="#F24242"/><circle cx="599.7" cy="1138" r="8.7" fill="#F24242"/><circle cx="617.1" cy="1155.4" r="8.7" fill="#F24242"/><circle cx="630.3" cy="1172.3" r="8.7" fill="#F24242"/><circle cx="640.5" cy="1186" r="8.7" fill="#F24242"/><circle cx="646.7" cy="1197.2" r="8.7" fill="#F24242"/><circle cx="652.8" cy="1207.4" r="8.7" fill="#F24242"/><circle cx="658" cy="1216" r="8.7" fill="#F24242"/><circle cx="660" cy="1219.5" r="8.7" fill="#F24242"/><circle cx="662" cy="1223" r="8.7" fill="#F24242"/><circle cx="664" cy="1225.8" r="8.7" fill="#F24242"/><circle cx="666.1" cy="1227.9" r="8.7" fill="#F24242"/><circle cx="668" cy="1228.5" r="8.7" fill="#F24242"/><circle cx="670" cy="1228" r="8.7" fill="#F24242"/><circle cx="672" cy="1226" r="8.7" fill="#F24242"/><circle cx="674" cy="1222" r="8.7" fill="#F24242"/><circle cx="676" cy="1217.5" r="8.7" fill="#F24242"/><circle cx="678" cy="1212" r="8.7" fill="#F24242"/><circle cx="679.5" cy="1207.5" r="8.7" fill="#F24242"/><circle cx="681" cy="1203" r="8.7" fill="#F24242"/><circle cx="682.2" cy="1198" r="8.7" fill="#F24242"/><circle cx="683.4" cy="1193.2" r="8.7" fill="#F24242"/><circle cx="685.5" cy="1187" r="8.7" fill="#F24242"/><circle cx="687.5" cy="1180.9" r="8.7" fill="#F24242"/><circle cx="689.5" cy="1173" r="8.7" fill="#F24242"/><circle cx="691.6" cy="1164.6" r="8.7" fill="#F24242"/><circle cx="180" cy="1262" r="8.7" fill="#F24242"/><circle cx="183" cy="1256" r="8.7" fill="#F24242"/><circle cx="186" cy="1250" r="8.7" fill="#F24242"/><circle cx="189" cy="1243" r="8.7" fill="#F24242"/><circle cx="192" cy="1236" r="8.7" fill="#F24242"/><circle cx="195" cy="1229" r="8.7" fill="#F24242"/><circle cx="198" cy="1222" r="8.7" fill="#F24242"/><circle cx="201" cy="1216" r="8.7" fill="#F24242"/>
</g>
<rect x="148" y="710" width="614.5" height="553" fill="none" stroke="#000" stroke-width="3.5"/>
<path d="M148 1263V1273M224.8 1263V1273M301.6 1263V1273M378.4 1263V1273M455.2 1263V1273M532.1 1263V1273M608.9 1263V1273M685.7 1263V1273M762.5 1263V1273M186.4 1263V1268.5M263.2 1263V1268.5M340 1263V1268.5M416.8 1263V1268.5M493.7 1263V1268.5M570.5 1263V1268.5M647.3 1263V1268.5M724.1 1263V1268.5M148 1263H138M148 1193.9H138M148 1124.8H138M148 1055.6H138M148 986.5H138M148 917.4H138M148 848.2H138M148 779.1H138M148 710H138M148 1228.4H142.5M148 1159.3H142.5M148 1090.2H142.5M148 1021.1H142.5M148 951.9H142.5M148 882.8H142.5M148 813.7H142.5M148 744.6H142.5" stroke="#000" stroke-width="3.5" fill="none"/>
<text x="148" y="1305.8" text-anchor="middle">0</text>
<text x="224.8" y="1305.8" text-anchor="middle">100</text>
<text x="301.6" y="1305.8" text-anchor="middle">200</text>
<text x="378.4" y="1305.8" text-anchor="middle">300</text>
<text x="455.2" y="1305.8" text-anchor="middle">400</text>
<text x="532.1" y="1305.8" text-anchor="middle">500</text>
<text x="608.9" y="1305.8" text-anchor="middle">600</text>
<text x="685.7" y="1305.8" text-anchor="middle">700</text>
<text x="762.5" y="1305.8" text-anchor="middle">800</text>
<text x="130.3" y="1272.6" text-anchor="end">0</text>
<text x="130.3" y="1203.5" text-anchor="end">100</text>
<text x="130.3" y="1134.3" text-anchor="end">200</text>
<text x="130.3" y="1065.2" text-anchor="end">300</text>
<text x="130.3" y="996.1" text-anchor="end">400</text>
<text x="130.3" y="927" text-anchor="end">500</text>
<text x="130.3" y="857.9" text-anchor="end">600</text>
<text x="130.3" y="788.7" text-anchor="end">700</text>
<text x="130.3" y="719.6" text-anchor="end">800</text>
<line x1="179.5" y1="745.5" x2="253.2" y2="745.5" stroke="#036CB0" stroke-width="6.5" stroke-linecap="round"/>
<rect x="208.1" y="737.7" width="15.6" height="15.6" fill="#036CB0"/>
<text x="263.3" y="756.1" font-size="32.6">4-MBSF-Li-1st</text>
<line x1="179.5" y1="787.6" x2="253.2" y2="787.6" stroke="#F24242" stroke-width="6.5" stroke-linecap="round"/>
<circle cx="216.2" cy="787.8" r="8.6" fill="#F24242"/>
<text x="264.3" y="798.2" font-size="32.6">Bare-Li-1st</text>
<text x="5.3" y="742.9" font-size="61">(c)</text>
<text x="410.5" y="1358.6">Z'(Ω)</text>
<text transform="translate(62 1009.5) rotate(-90)" x="0" y="0">-Z''(Ω)</text>
<g clip-path="url(#cd)">
<polyline points="955.6,1264.3 958.5,1262.5 961.8,1261 965,1259 968.5,1257.5 971.5,1256 974.2,1254.8 977.5,1253 980.5,1251.5 983.6,1250.1 985.5,1244.5 987.4,1238.7 989.8,1235 992.2,1231.1 995,1225.4 997,1221.5 998.8,1217.8 1001,1212.5 1003.6,1207.4 1007,1201.5 1010.2,1196 1014.5,1190 1018.8,1183.7 1025,1176 1032,1168.5 1040,1160 1049.1,1151.4 1075.4,1130.9 1100.1,1118.1 1133.2,1105.6 1169.4,1098.1 1211.5,1096.8 1249.4,1101.7 1282.1,1111.9 1310.7,1123.1 1335.2,1137.4 1355,1154.3 1369.9,1167.9 1380.1,1178.2 1390.2,1187.4 1398.3,1195 1404.6,1200.4 1410,1203.2 1414.6,1203.7 1422,1201 1430.3,1196.3 1436.3,1189.8 1442.5,1181.4 1448.5,1170.8 1456.4,1156.7 1464.5,1138.6 1473.2,1117.4 1482.4,1091.9" fill="none" stroke="#FF0000" stroke-width="6" stroke-linejoin="round" stroke-linecap="round"/>
<rect x="948" y="1256.7" width="15.2" height="15.2" fill="#FF0000"/><rect x="950.9" y="1254.9" width="15.2" height="15.2" fill="#FF0000"/><rect x="954.2" y="1253.4" width="15.2" height="15.2" fill="#FF0000"/><rect x="957.4" y="1251.4" width="15.2" height="15.2" fill="#FF0000"/><rect x="960.9" y="1249.9" width="15.2" height="15.2" fill="#FF0000"/><rect x="963.9" y="1248.4" width="15.2" height="15.2" fill="#FF0000"/><rect x="966.6" y="1247.2" width="15.2" height="15.2" fill="#FF0000"/><rect x="969.9" y="1245.4" width="15.2" height="15.2" fill="#FF0000"/><rect x="972.9" y="1243.9" width="15.2" height="15.2" fill="#FF0000"/><rect x="976" y="1242.5" width="15.2" height="15.2" fill="#FF0000"/><rect x="977.9" y="1236.9" width="15.2" height="15.2" fill="#FF0000"/><rect x="979.8" y="1231.1" width="15.2" height="15.2" fill="#FF0000"/><rect x="982.2" y="1227.4" width="15.2" height="15.2" fill="#FF0000"/><rect x="984.6" y="1223.5" width="15.2" height="15.2" fill="#FF0000"/><rect x="987.4" y="1217.8" width="15.2" height="15.2" fill="#FF0000"/><rect x="989.4" y="1213.9" width="15.2" height="15.2" fill="#FF0000"/><rect x="991.2" y="1210.2" width="15.2" height="15.2" fill="#FF0000"/><rect x="993.4" y="1204.9" width="15.2" height="15.2" fill="#FF0000"/><rect x="996" y="1199.8" width="15.2" height="15.2" fill="#FF0000"/><rect x="999.4" y="1193.9" width="15.2" height="15.2" fill="#FF0000"/><rect x="1002.6" y="1188.4" width="15.2" height="15.2" fill="#FF0000"/><rect x="1006.9" y="1182.4" width="15.2" height="15.2" fill="#FF0000"/><rect x="1011.2" y="1176.1" width="15.2" height="15.2" fill="#FF0000"/><rect x="1017.4" y="1168.4" width="15.2" height="15.2" fill="#FF0000"/><rect x="1024.4" y="1160.9" width="15.2" height="15.2" fill="#FF0000"/><rect x="1032.4" y="1152.4" width="15.2" height="15.2" fill="#FF0000"/><rect x="1041.5" y="1143.8" width="15.2" height="15.2" fill="#FF0000"/><rect x="1067.8" y="1123.3" width="15.2" height="15.2" fill="#FF0000"/><rect x="1092.5" y="1110.5" width="15.2" height="15.2" fill="#FF0000"/><rect x="1125.6" y="1098" width="15.2" height="15.2" fill="#FF0000"/><rect x="1161.8" y="1090.5" width="15.2" height="15.2" fill="#FF0000"/><rect x="1203.9" y="1089.2" width="15.2" height="15.2" fill="#FF0000"/><rect x="1241.8" y="1094.1" width="15.2" height="15.2" fill="#FF0000"/><rect x="1274.5" y="1104.3" width="15.2" height="15.2" fill="#FF0000"/><rect x="1303.1" y="1115.5" width="15.2" height="15.2" fill="#FF0000"/><rect x="1327.6" y="1129.8" width="15.2" height="15.2" fill="#FF0000"/><rect x="1347.4" y="1146.7" width="15.2" height="15.2" fill="#FF0000"/><rect x="1362.3" y="1160.3" width="15.2" height="15.2" fill="#FF0000"/><rect x="1372.5" y="1170.6" width="15.2" height="15.2" fill="#FF0000"/><rect x="1382.6" y="1179.8" width="15.2" height="15.2" fill="#FF0000"/><rect x="1390.7" y="1187.4" width="15.2" height="15.2" fill="#FF0000"/><rect x="1397" y="1192.8" width="15.2" height="15.2" fill="#FF0000"/><rect x="1402.4" y="1195.6" width="15.2" height="15.2" fill="#FF0000"/><rect x="1407" y="1196.1" width="15.2" height="15.2" fill="#FF0000"/><rect x="1414.4" y="1193.4" width="15.2" height="15.2" fill="#FF0000"/><rect x="1422.7" y="1188.7" width="15.2" height="15.2" fill="#FF0000"/><rect x="1428.7" y="1182.2" width="15.2" height="15.2" fill="#FF0000"/><rect x="1434.9" y="1173.8" width="15.2" height="15.2" fill="#FF0000"/><rect x="1440.9" y="1163.2" width="15.2" height="15.2" fill="#FF0000"/><rect x="1448.8" y="1149.1" width="15.2" height="15.2" fill="#FF0000"/><rect x="1456.9" y="1131" width="15.2" height="15.2" fill="#FF0000"/><rect x="1465.6" y="1109.8" width="15.2" height="15.2" fill="#FF0000"/><rect x="1474.8" y="1084.3" width="15.2" height="15.2" fill="#FF0000"/>
<polyline points="962,1265 964,1261 967,1258 971,1256 975,1254 979,1252 983,1250 986.5,1248 989.5,1244.5 992.5,1240 995.5,1235 998.5,1230 1001.5,1226 1004.5,1222 1008,1216.5 1012,1210.5 1016.5,1205.5 1021,1201 1026.5,1195.5 1030,1191 1034,1187 1041,1183 1046,1179.5 1054,1173 1070.6,1163.2 1093.6,1154.9 1119.1,1149.1 1149.1,1148.5 1175.3,1152.3 1198.9,1159.4 1217.5,1168 1234.5,1178.8 1241.5,1184 1248.1,1189.5 1253,1193 1257.7,1196.9 1263.3,1203.1 1267,1208 1271,1212.5 1275,1216.5 1279,1219.5 1283,1221.5 1287,1222 1291,1221 1296.1,1217.8 1300,1210.5 1304.1,1203.1 1308.6,1194.1 1311,1188.5 1313.7,1182.7 1317,1175.5 1319.9,1168 1323,1159 1326.1,1150 1330,1138.5 1334,1127.3" fill="none" stroke="#4EBEFF" stroke-width="6" stroke-linejoin="round" stroke-linecap="round"/>
<circle cx="962" cy="1265" r="8.4" fill="#4EBEFF"/><circle cx="964" cy="1261" r="8.4" fill="#4EBEFF"/><circle cx="967" cy="1258" r="8.4" fill="#4EBEFF"/><circle cx="971" cy="1256" r="8.4" fill="#4EBEFF"/><circle cx="975" cy="1254" r="8.4" fill="#4EBEFF"/><circle cx="979" cy="1252" r="8.4" fill="#4EBEFF"/><circle cx="983" cy="1250" r="8.4" fill="#4EBEFF"/><circle cx="986.5" cy="1248" r="8.4" fill="#4EBEFF"/><circle cx="989.5" cy="1244.5" r="8.4" fill="#4EBEFF"/><circle cx="992.5" cy="1240" r="8.4" fill="#4EBEFF"/><circle cx="995.5" cy="1235" r="8.4" fill="#4EBEFF"/><circle cx="998.5" cy="1230" r="8.4" fill="#4EBEFF"/><circle cx="1001.5" cy="1226" r="8.4" fill="#4EBEFF"/><circle cx="1004.5" cy="1222" r="8.4" fill="#4EBEFF"/><circle cx="1008" cy="1216.5" r="8.4" fill="#4EBEFF"/><circle cx="1012" cy="1210.5" r="8.4" fill="#4EBEFF"/><circle cx="1016.5" cy="1205.5" r="8.4" fill="#4EBEFF"/><circle cx="1021" cy="1201" r="8.4" fill="#4EBEFF"/><circle cx="1026.5" cy="1195.5" r="8.4" fill="#4EBEFF"/><circle cx="1030" cy="1191" r="8.4" fill="#4EBEFF"/><circle cx="1034" cy="1187" r="8.4" fill="#4EBEFF"/><circle cx="1041" cy="1183" r="8.4" fill="#4EBEFF"/><circle cx="1046" cy="1179.5" r="8.4" fill="#4EBEFF"/><circle cx="1054" cy="1173" r="8.4" fill="#4EBEFF"/><circle cx="1070.6" cy="1163.2" r="8.4" fill="#4EBEFF"/><circle cx="1093.6" cy="1154.9" r="8.4" fill="#4EBEFF"/><circle cx="1119.1" cy="1149.1" r="8.4" fill="#4EBEFF"/><circle cx="1149.1" cy="1148.5" r="8.4" fill="#4EBEFF"/><circle cx="1175.3" cy="1152.3" r="8.4" fill="#4EBEFF"/><circle cx="1198.9" cy="1159.4" r="8.4" fill="#4EBEFF"/><circle cx="1217.5" cy="1168" r="8.4" fill="#4EBEFF"/><circle cx="1234.5" cy="1178.8" r="8.4" fill="#4EBEFF"/><circle cx="1248.1" cy="1189.5" r="8.4" fill="#4EBEFF"/><circle cx="1257.7" cy="1196.9" r="8.4" fill="#4EBEFF"/><circle cx="1263.3" cy="1203.1" r="8.4" fill="#4EBEFF"/><circle cx="1267" cy="1208" r="8.4" fill="#4EBEFF"/><circle cx="1271" cy="1212.5" r="8.4" fill="#4EBEFF"/><circle cx="1275" cy="1216.5" r="8.4" fill="#4EBEFF"/><circle cx="1279" cy="1219.5" r="8.4" fill="#4EBEFF"/><circle cx="1283" cy="1221.5" r="8.4" fill="#4EBEFF"/><circle cx="1287" cy="1222" r="8.4" fill="#4EBEFF"/><circle cx="1291" cy="1221" r="8.4" fill="#4EBEFF"/><circle cx="1296.1" cy="1217.8" r="8.4" fill="#4EBEFF"/><circle cx="1300" cy="1210.5" r="8.4" fill="#4EBEFF"/><circle cx="1304.1" cy="1203.1" r="8.4" fill="#4EBEFF"/><circle cx="1308.6" cy="1194.1" r="8.4" fill="#4EBEFF"/><circle cx="1311" cy="1188.5" r="8.4" fill="#4EBEFF"/><circle cx="1313.7" cy="1182.7" r="8.4" fill="#4EBEFF"/><circle cx="1317" cy="1175.5" r="8.4" fill="#4EBEFF"/><circle cx="1319.9" cy="1168" r="8.4" fill="#4EBEFF"/><circle cx="1323" cy="1159" r="8.4" fill="#4EBEFF"/><circle cx="1326.1" cy="1150" r="8.4" fill="#4EBEFF"/><circle cx="1330" cy="1138.5" r="8.4" fill="#4EBEFF"/><circle cx="1334" cy="1127.3" r="8.4" fill="#4EBEFF"/>
<polyline points="975,1265 978,1262 983,1256 988,1252 994,1249 1000,1247 1006,1243.5 1012,1239 1018,1232 1025,1224 1030,1215 1034.9,1205.9 1040,1201 1044.4,1196.8 1051,1191.5 1058.6,1187 1068,1182 1077.7,1177.2 1086,1174 1094.9,1171.5 1105,1169 1116.6,1167 1128,1166 1139.6,1165.8 1151,1167 1163.8,1168.9 1174,1171.5 1184.2,1174.7 1193,1178.5 1201.5,1182.3 1208,1186.5 1214.9,1190.6 1221,1195 1226.3,1199.6 1231,1203.5 1235.3,1207.9 1240,1212 1245,1216.5 1250,1220.5 1255,1224 1260,1227 1264,1229 1268,1229 1272,1226 1275,1224 1278,1220.5 1281,1217 1284,1212.5 1287,1208 1290,1203 1293,1198 1296,1192 1299,1186 1302,1180.5 1305,1175 1308,1168.5 1311,1162 1314.5,1155 1318,1148 1322,1141 1326.7,1133.5" fill="none" stroke="#E8B02C" stroke-width="6" stroke-linejoin="round" stroke-linecap="round"/>
<path d="M975 1253.7L984.8 1270.6L965.2 1270.6Z" fill="#E8B02C"/><path d="M978 1250.7L987.8 1267.6L968.2 1267.6Z" fill="#E8B02C"/><path d="M983 1244.7L992.8 1261.6L973.2 1261.6Z" fill="#E8B02C"/><path d="M988 1240.7L997.8 1257.6L978.2 1257.6Z" fill="#E8B02C"/><path d="M994 1237.7L1003.8 1254.6L984.2 1254.6Z" fill="#E8B02C"/><path d="M1000 1235.7L1009.8 1252.6L990.2 1252.6Z" fill="#E8B02C"/><path d="M1006 1232.2L1015.8 1249.1L996.2 1249.1Z" fill="#E8B02C"/><path d="M1012 1227.7L1021.8 1244.6L1002.2 1244.6Z" fill="#E8B02C"/><path d="M1018 1220.7L1027.8 1237.6L1008.2 1237.6Z" fill="#E8B02C"/><path d="M1025 1212.7L1034.8 1229.6L1015.2 1229.6Z" fill="#E8B02C"/><path d="M1030 1203.7L1039.8 1220.6L1020.2 1220.6Z" fill="#E8B02C"/><path d="M1034.9 1194.6L1044.7 1211.5L1025.2 1211.5Z" fill="#E8B02C"/><path d="M1040 1189.7L1049.8 1206.6L1030.2 1206.6Z" fill="#E8B02C"/><path d="M1044.4 1185.5L1054.2 1202.4L1034.7 1202.4Z" fill="#E8B02C"/><path d="M1058.6 1175.7L1068.3 1192.6L1048.8 1192.6Z" fill="#E8B02C"/><path d="M1077.7 1165.9L1087.5 1182.8L1068 1182.8Z" fill="#E8B02C"/><path d="M1094.9 1160.2L1104.7 1177.1L1085.2 1177.1Z" fill="#E8B02C"/><path d="M1116.6 1155.7L1126.3 1172.6L1106.8 1172.6Z" fill="#E8B02C"/><path d="M1139.6 1154.5L1149.3 1171.4L1129.8 1171.4Z" fill="#E8B02C"/><path d="M1163.8 1157.6L1173.5 1174.5L1154 1174.5Z" fill="#E8B02C"/><path d="M1184.2 1163.4L1194 1180.3L1174.5 1180.3Z" fill="#E8B02C"/><path d="M1201.5 1171L1211.2 1187.9L1191.8 1187.9Z" fill="#E8B02C"/><path d="M1214.9 1179.3L1224.7 1196.2L1205.2 1196.2Z" fill="#E8B02C"/><path d="M1226.3 1188.3L1236 1205.2L1216.5 1205.2Z" fill="#E8B02C"/><path d="M1235.3 1196.6L1245 1213.5L1225.5 1213.5Z" fill="#E8B02C"/><path d="M1240 1200.7L1249.8 1217.6L1230.2 1217.6Z" fill="#E8B02C"/><path d="M1245 1205.2L1254.8 1222.1L1235.2 1222.1Z" fill="#E8B02C"/><path d="M1250 1209.2L1259.8 1226.1L1240.2 1226.1Z" fill="#E8B02C"/><path d="M1255 1212.7L1264.8 1229.6L1245.2 1229.6Z" fill="#E8B02C"/><path d="M1260 1215.7L1269.8 1232.6L1250.2 1232.6Z" fill="#E8B02C"/><path d="M1264 1217.7L1273.8 1234.6L1254.2 1234.6Z" fill="#E8B02C"/><path d="M1268 1217.7L1277.8 1234.6L1258.2 1234.6Z" fill="#E8B02C"/><path d="M1272 1214.7L1281.8 1231.6L1262.2 1231.6Z" fill="#E8B02C"/><path d="M1275 1212.7L1284.8 1229.6L1265.2 1229.6Z" fill="#E8B02C"/><path d="M1278 1209.2L1287.8 1226.1L1268.2 1226.1Z" fill="#E8B02C"/><path d="M1281 1205.7L1290.8 1222.6L1271.2 1222.6Z" fill="#E8B02C"/><path d="M1284 1201.2L1293.8 1218.1L1274.2 1218.1Z" fill="#E8B02C"/><path d="M1287 1196.7L1296.8 1213.6L1277.2 1213.6Z" fill="#E8B02C"/><path d="M1290 1191.7L1299.8 1208.6L1280.2 1208.6Z" fill="#E8B02C"/><path d="M1293 1186.7L1302.8 1203.6L1283.2 1203.6Z" fill="#E8B02C"/><path d="M1296 1180.7L1305.8 1197.6L1286.2 1197.6Z" fill="#E8B02C"/><path d="M1299 1174.7L1308.8 1191.6L1289.2 1191.6Z" fill="#E8B02C"/><path d="M1302 1169.2L1311.8 1186.1L1292.2 1186.1Z" fill="#E8B02C"/><path d="M1305 1163.7L1314.8 1180.6L1295.2 1180.6Z" fill="#E8B02C"/><path d="M1308 1157.2L1317.8 1174.1L1298.2 1174.1Z" fill="#E8B02C"/><path d="M1311 1150.7L1320.8 1167.6L1301.2 1167.6Z" fill="#E8B02C"/><path d="M1314.5 1143.7L1324.2 1160.6L1304.8 1160.6Z" fill="#E8B02C"/><path d="M1318 1136.7L1327.8 1153.6L1308.2 1153.6Z" fill="#E8B02C"/><path d="M1322 1129.7L1331.8 1146.6L1312.2 1146.6Z" fill="#E8B02C"/><path d="M1326.7 1122.2L1336.5 1139.1L1317 1139.1Z" fill="#E8B02C"/>
<polyline points="989,1263 994,1258 1000,1252 1005,1247.5 1010,1244.8 1015,1241.5 1020,1237.9 1025,1233.5 1030,1228.3 1035,1222.5 1040,1216.4 1045,1211 1050.2,1205.5 1055,1200.8 1059.8,1196.4 1067,1192 1074.5,1188.1 1084,1183.5 1093,1179.1 1101.5,1176.5 1110.2,1174 1120,1172 1130.6,1170.8 1141.5,1170.5 1152.3,1170.8 1163,1172.5 1174,1174.7 1184,1177.7 1193.2,1181 1201,1184.5 1208.5,1188.1 1215,1192 1221.2,1195.7 1227,1201 1232.7,1206.6 1237,1211 1241,1215 1245,1218.5 1249,1222 1253,1225 1257,1227 1261,1226.5 1265,1223 1269,1218 1273,1212 1277,1206 1280.5,1200.5 1283.7,1195.7 1288.8,1184.4 1293.5,1169.7 1299.5,1151.6 1306.5,1130.1 1314.2,1103.5" fill="none" stroke="#036CB0" stroke-width="6" stroke-linejoin="round" stroke-linecap="round"/>
<path d="M989 1274.3L998.8 1257.4L979.2 1257.4Z" fill="#036CB0"/><path d="M994 1269.3L1003.8 1252.4L984.2 1252.4Z" fill="#036CB0"/><path d="M1000 1263.3L1009.8 1246.4L990.2 1246.4Z" fill="#036CB0"/><path d="M1005 1258.8L1014.8 1241.9L995.2 1241.9Z" fill="#036CB0"/><path d="M1010 1256.1L1019.8 1239.2L1000.2 1239.2Z" fill="#036CB0"/><path d="M1015 1252.8L1024.8 1235.9L1005.2 1235.9Z" fill="#036CB0"/><path d="M1020 1249.2L1029.8 1232.3L1010.2 1232.3Z" fill="#036CB0"/><path d="M1025 1244.8L1034.8 1227.9L1015.2 1227.9Z" fill="#036CB0"/><path d="M1030 1239.6L1039.8 1222.7L1020.2 1222.7Z" fill="#036CB0"/><path d="M1035 1233.8L1044.8 1216.9L1025.2 1216.9Z" fill="#036CB0"/><path d="M1040 1227.7L1049.8 1210.8L1030.2 1210.8Z" fill="#036CB0"/><path d="M1045 1222.3L1054.8 1205.4L1035.2 1205.4Z" fill="#036CB0"/><path d="M1050.2 1216.8L1060 1199.9L1040.5 1199.9Z" fill="#036CB0"/><path d="M1059.8 1207.7L1069.5 1190.8L1050 1190.8Z" fill="#036CB0"/><path d="M1074.5 1199.4L1084.2 1182.5L1064.8 1182.5Z" fill="#036CB0"/><path d="M1093 1190.4L1102.8 1173.5L1083.2 1173.5Z" fill="#036CB0"/><path d="M1110.2 1185.3L1120 1168.4L1100.5 1168.4Z" fill="#036CB0"/><path d="M1130.6 1182.1L1140.3 1165.2L1120.8 1165.2Z" fill="#036CB0"/><path d="M1152.3 1182.1L1162 1165.2L1142.5 1165.2Z" fill="#036CB0"/><path d="M1174 1186L1183.8 1169.1L1164.2 1169.1Z" fill="#036CB0"/><path d="M1193.2 1192.3L1203 1175.4L1183.5 1175.4Z" fill="#036CB0"/><path d="M1208.5 1199.4L1218.2 1182.5L1198.8 1182.5Z" fill="#036CB0"/><path d="M1221.2 1207L1231 1190.1L1211.5 1190.1Z" fill="#036CB0"/><path d="M1232.7 1217.9L1242.5 1201L1223 1201Z" fill="#036CB0"/><path d="M1237 1222.3L1246.8 1205.4L1227.2 1205.4Z" fill="#036CB0"/><path d="M1241 1226.3L1250.8 1209.4L1231.2 1209.4Z" fill="#036CB0"/><path d="M1245 1229.8L1254.8 1212.9L1235.2 1212.9Z" fill="#036CB0"/><path d="M1249 1233.3L1258.8 1216.4L1239.2 1216.4Z" fill="#036CB0"/><path d="M1253 1236.3L1262.8 1219.4L1243.2 1219.4Z" fill="#036CB0"/><path d="M1257 1238.3L1266.8 1221.4L1247.2 1221.4Z" fill="#036CB0"/><path d="M1261 1237.8L1270.8 1220.9L1251.2 1220.9Z" fill="#036CB0"/><path d="M1265 1234.3L1274.8 1217.4L1255.2 1217.4Z" fill="#036CB0"/><path d="M1269 1229.3L1278.8 1212.4L1259.2 1212.4Z" fill="#036CB0"/><path d="M1273 1223.3L1282.8 1206.4L1263.2 1206.4Z" fill="#036CB0"/><path d="M1277 1217.3L1286.8 1200.4L1267.2 1200.4Z" fill="#036CB0"/><path d="M1280.5 1211.8L1290.2 1194.9L1270.8 1194.9Z" fill="#036CB0"/><path d="M1283.7 1207L1293.5 1190.1L1274 1190.1Z" fill="#036CB0"/><path d="M1288.8 1195.7L1298.5 1178.8L1279 1178.8Z" fill="#036CB0"/><path d="M1293.5 1181L1303.2 1164.1L1283.8 1164.1Z" fill="#036CB0"/><path d="M1299.5 1162.9L1309.2 1146L1289.8 1146Z" fill="#036CB0"/><path d="M1306.5 1141.4L1316.2 1124.5L1296.8 1124.5Z" fill="#036CB0"/><path d="M1314.2 1114.8L1324 1097.9L1304.5 1097.9Z" fill="#036CB0"/><path d="M1003.5 1268.3L1013.2 1251.4L993.8 1251.4Z" fill="#036CB0"/><path d="M1008.5 1263.8L1018.2 1246.9L998.8 1246.9Z" fill="#036CB0"/><path d="M1013.5 1261.1L1023.2 1244.2L1003.8 1244.2Z" fill="#036CB0"/><path d="M1018.5 1257.8L1028.2 1240.9L1008.8 1240.9Z" fill="#036CB0"/><path d="M1023.5 1254.2L1033.2 1237.3L1013.8 1237.3Z" fill="#036CB0"/><path d="M1028.5 1249.8L1038.2 1232.9L1018.8 1232.9Z" fill="#036CB0"/><path d="M1033.5 1244.6L1043.2 1227.7L1023.8 1227.7Z" fill="#036CB0"/><path d="M1038.5 1238.8L1048.2 1221.9L1028.8 1221.9Z" fill="#036CB0"/><path d="M1043.5 1232.7L1053.2 1215.8L1033.8 1215.8Z" fill="#036CB0"/><path d="M1048.5 1227.3L1058.2 1210.4L1038.8 1210.4Z" fill="#036CB0"/>
</g>
<rect x="921.4" y="712.7" width="617.9" height="553.3" fill="none" stroke="#000" stroke-width="3.5"/>
<path d="M921.4 1266V1276M1075.9 1266V1276M1230.3 1266V1276M1384.8 1266V1276M1539.3 1266V1276M998.6 1266V1271.5M1153.1 1266V1271.5M1307.6 1266V1271.5M1462.1 1266V1271.5M921.4 1266H911.4M921.4 1196.8H911.4M921.4 1127.7H911.4M921.4 1058.5H911.4M921.4 989.4H911.4M921.4 920.2H911.4M921.4 851H911.4M921.4 781.9H911.4M921.4 712.7H911.4M921.4 1231.4H915.9M921.4 1162.3H915.9M921.4 1093.1H915.9M921.4 1023.9H915.9M921.4 954.8H915.9M921.4 885.6H915.9M921.4 816.4H915.9M921.4 747.3H915.9" stroke="#000" stroke-width="3.5" fill="none"/>
<text x="921.4" y="1308.7" text-anchor="middle">0</text>
<text x="1075.9" y="1308.7" text-anchor="middle">100</text>
<text x="1230.3" y="1308.7" text-anchor="middle">200</text>
<text x="1384.8" y="1308.7" text-anchor="middle">300</text>
<text x="1539.3" y="1308.7" text-anchor="middle">400</text>
<text x="903.6" y="1275.6" text-anchor="end">0</text>
<text x="903.6" y="1206.4" text-anchor="end">50</text>
<text x="903.6" y="1137.3" text-anchor="end">100</text>
<text x="903.6" y="1068.1" text-anchor="end">150</text>
<text x="903.6" y="999" text-anchor="end">200</text>
<text x="903.6" y="929.8" text-anchor="end">250</text>
<text x="903.6" y="860.6" text-anchor="end">300</text>
<text x="903.6" y="791.5" text-anchor="end">350</text>
<text x="903.6" y="722.3" text-anchor="end">400</text>
<text x="952.3" y="759.5">4-MBSF-Li</text>
<line x1="953.3" y1="781.8" x2="1025.9" y2="781.8" stroke="#FF0000" stroke-width="6.5" stroke-linecap="round"/>
<rect x="979.5" y="772" width="20" height="19.5" fill="#fff"/>
<rect x="981.8" y="774" width="15.2" height="15.2" fill="#FF0000"/>
<text x="1034.8" y="792">1st</text>
<line x1="1107.3" y1="781.8" x2="1181" y2="781.8" stroke="#4EBEFF" stroke-width="6.5" stroke-linecap="round"/>
<circle cx="1144.1" cy="781.8" r="10.6" fill="#fff"/>
<circle cx="1144.1" cy="781.8" r="8.6" fill="#4EBEFF"/>
<text x="1189.3" y="792">10th</text>
<line x1="953.3" y1="824.6" x2="1025.9" y2="824.6" stroke="#E8B02C" stroke-width="6.5" stroke-linecap="round"/>
<path d="M989.8 809.5L1003.5 832.5L976.1 832.5Z" fill="#fff"/>
<path d="M989.8 814L999.8 831.3L979.8 831.3Z" fill="#E8B02C"/>
<text x="1034.1" y="834.3">20th</text>
<line x1="1107.3" y1="824.6" x2="1181" y2="824.6" stroke="#036CB0" stroke-width="6.5" stroke-linecap="round"/>
<path d="M1144.1 840L1158 817L1130.2 817Z" fill="#fff"/>
<path d="M1144.1 836.3L1154.1 819L1134.1 819Z" fill="#036CB0"/>
<text x="1188.2" y="834.3">30th</text>
<text x="777.6" y="749.6" font-size="61">(d)</text>
<text x="1185.6" y="1361.8">Z'(Ω)</text>
<text transform="translate(836.8 1013.1) rotate(-90)" x="0" y="0">-Z''(Ω)</text>
</svg></body></html>
